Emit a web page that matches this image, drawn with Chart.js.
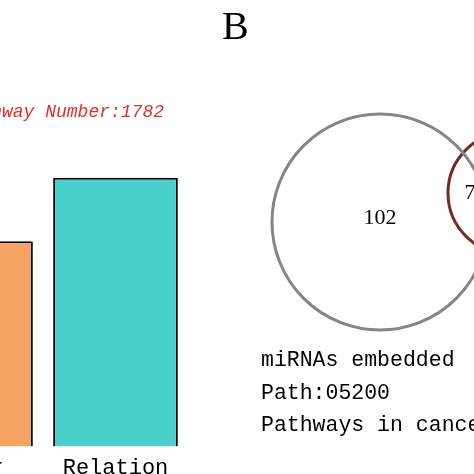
<!DOCTYPE html>
<html><head>
<script src="https://cdn.jsdelivr.net/npm/chart.js"></script>
<style>
body{margin:0;width:474px;height:474px;overflow:hidden;background:#fff;position:relative;font-family:"Liberation Serif",serif}
#bars{position:absolute;left:-102px;top:0}
#venn{position:absolute;left:0;top:0}
.t{position:absolute;white-space:nowrap}
</style>
</head><body>
<canvas id="bars" width="320" height="490"></canvas>
<canvas id="venn" width="474" height="474"></canvas>
<div class="t" style="left:222px;top:2px;font-size:40px">B</div>
<div class="t" style="right:310px;top:102px;font:italic 18px 'Liberation Mono',monospace;color:#e0302a">Pathway Number:1782</div>
<div class="t" style="left:261px;top:344px;font:21.5px 'Liberation Mono',monospace;line-height:32.5px">miRNAs embedded<br>Path:05200<br>Pathways in cancer</div>
<script>
const categories = ['Other', 'Relation'];
const values = [840, 1100];
const barColors = ['#f4a460', '#48d1cc'];

const vennSets = [
  {x: 380, y: 222, r: 108, label: '102', lx: 380, ly: 218, color: '#858585'},
  {x: 509, y: 193, r: 61, label: '7', lx: 470, ly: 193, color: '#7a2a22'}
];

new Chart('bars', {
  type: 'bar',
  data: {labels: categories, datasets: [{data: values, backgroundColor: barColors, borderColor: '#000', borderWidth: 2, barPercentage: 0.86, categoryPercentage: 1}]},
  options: {
    responsive: false, animation: false,
    layout: {padding: {top: 80, bottom: 9, left: 0, right: 30}},
    plugins: {legend: {display: false}, tooltip: {enabled: false}},
    scales: {
      x: {grid: {display: false}, border: {display: false}, ticks: {color: '#000', font: {family: 'Liberation Mono', size: 22}, padding: 0}},
      y: {display: false, min: 0, max: 1500}
    }
  }
});

const vennText = {
  id: 'vennText',
  afterDatasetsDraw(chart) {
    const c = chart.ctx, xs = chart.scales.x, ys = chart.scales.y;
    c.save();
    c.font = '22px "Liberation Serif"';
    c.fillStyle = '#000'; c.textAlign = 'center'; c.textBaseline = 'middle';
    vennSets.forEach(s => c.fillText(s.label, xs.getPixelForValue(s.lx), ys.getPixelForValue(s.ly)));
    c.restore();
  }
};

new Chart('venn', {
  type: 'scatter',
  data: {datasets: vennSets.map(s => ({data: [{x: s.x, y: s.y}], pointRadius: s.r, pointBorderColor: s.color, pointBorderWidth: 3, backgroundColor: 'rgba(0,0,0,0)', clip: false}))},
  options: {
    responsive: false, animation: false, layout: {padding: 0, autoPadding: false},
    plugins: {legend: {display: false}, tooltip: {enabled: false}},
    scales: {x: {display: false, min: 0, max: 474}, y: {display: false, min: 0, max: 474, reverse: true}}
  },
  plugins: [vennText]
});
</script>
</body></html>
